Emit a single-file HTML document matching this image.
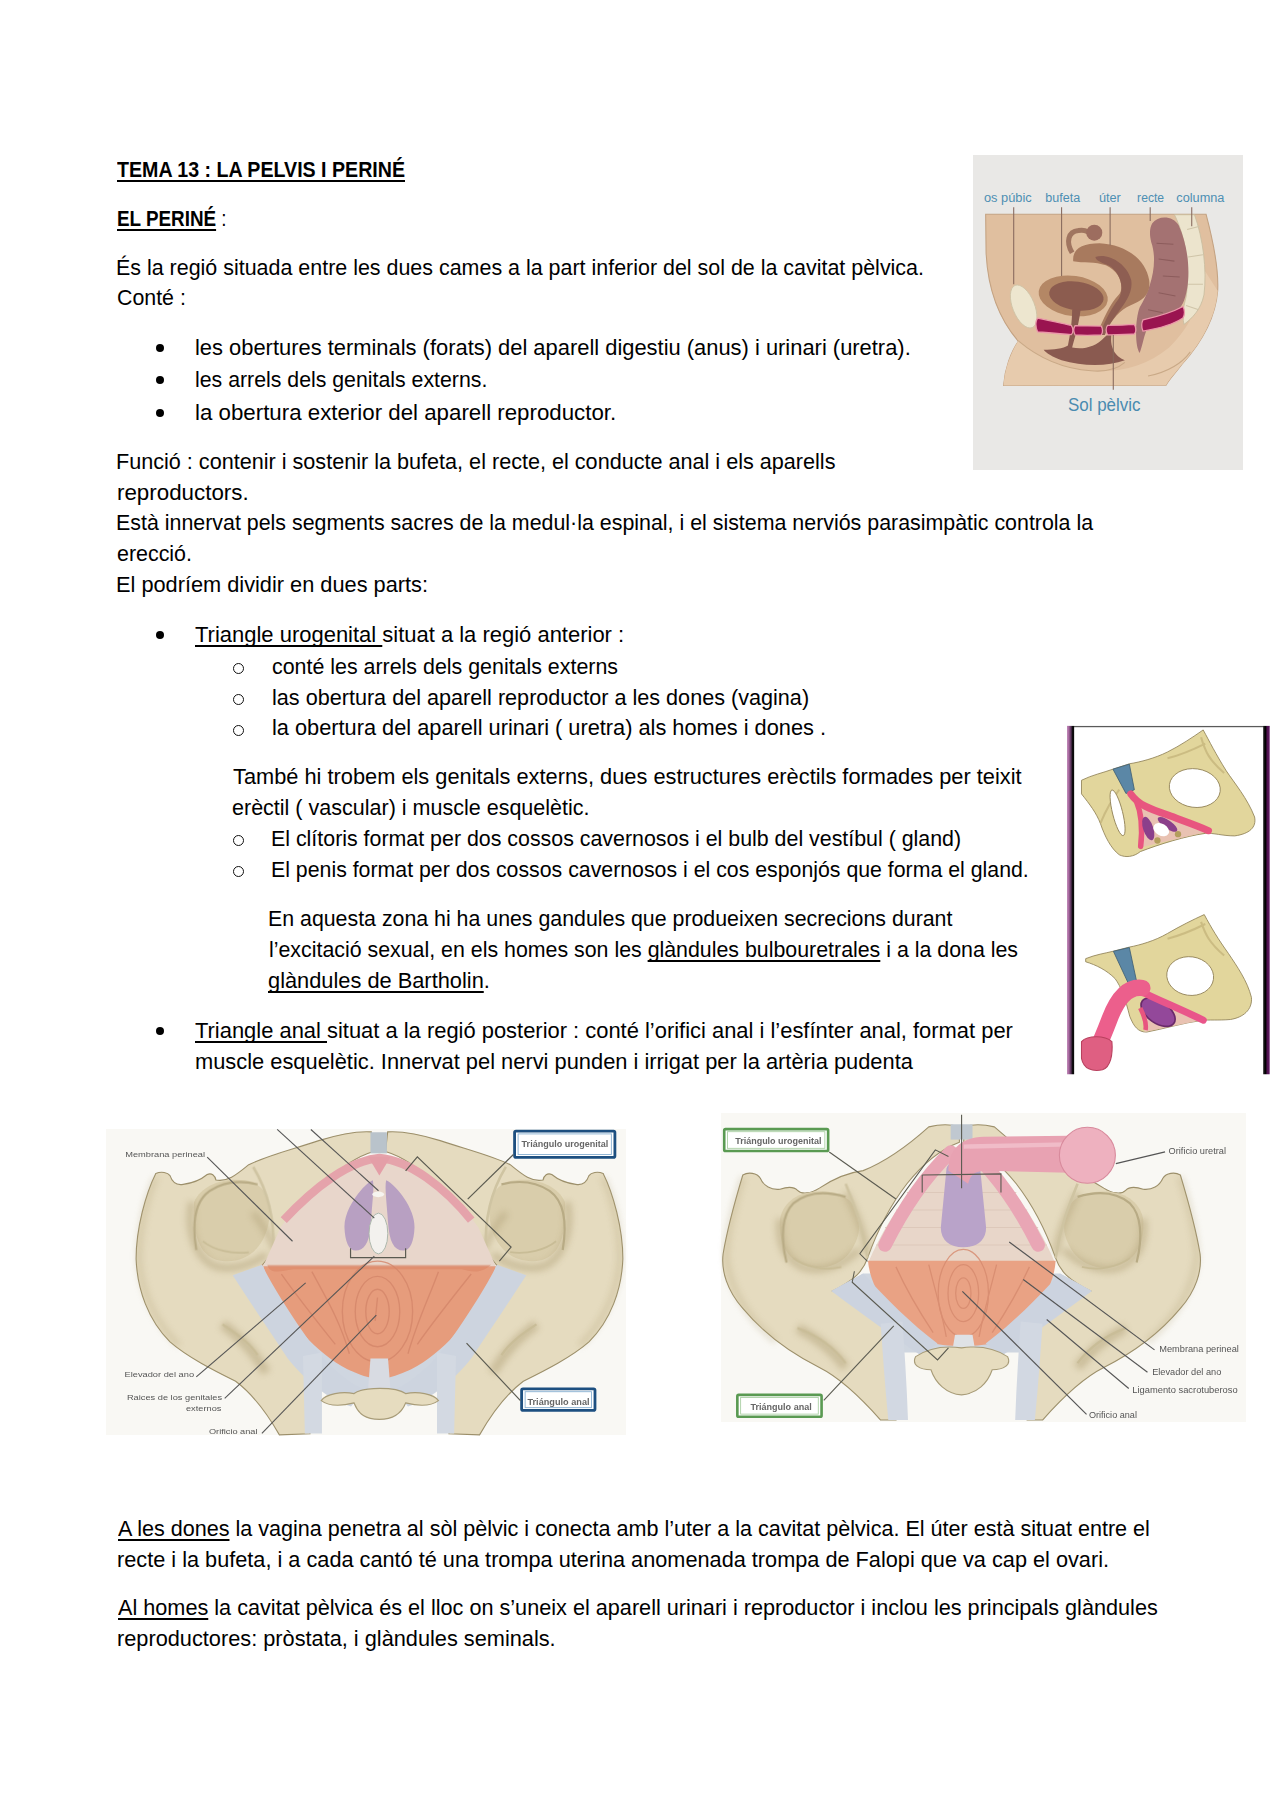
<!DOCTYPE html>
<html><head><meta charset="utf-8"><title>TEMA 13</title>
<style>
html,body{margin:0;padding:0;background:#fff}
body{width:1280px;height:1811px;position:relative;overflow:hidden;font-family:"Liberation Sans",sans-serif;color:#000}
.l{position:absolute;white-space:nowrap;font-size:22px;line-height:24px;transform-origin:0 0}
.l.bd{font-weight:bold}
.l u{text-decoration:underline;text-underline-offset:3px;text-decoration-thickness:2px;text-decoration-skip-ink:none}
.b{position:absolute;width:8px;height:8px;border-radius:50%;background:#000}
.c{position:absolute;width:9px;height:9px;border:1.4px solid #111;border-radius:50%}
.im{position:absolute;overflow:hidden}
</style></head><body>

<div class="l bd" style="left:117.00px;top:158.35px;transform:scaleX(0.8913)"><u>TEMA 13 : LA PELVIS I PERINÉ</u></div>
<div class="l bd" style="left:117.00px;top:206.85px;transform:scaleX(0.8560)"><u>EL PERINÉ</u><span style="font-weight:normal"> :</span></div>
<div class="l" style="left:116.00px;top:255.55px;transform:scaleX(0.9745)">És la regió situada entre les dues cames a la part inferior del sol de la cavitat pèlvica.</div>
<div class="l" style="left:117.00px;top:286.45px;transform:scaleX(0.9706)">Conté :</div>
<div class="l" style="left:194.80px;top:335.85px;transform:scaleX(0.9955)">les obertures terminals (forats) del aparell digestiu (anus) i urinari (uretra).</div>
<div class="l" style="left:194.80px;top:367.85px;transform:scaleX(0.9679)">les arrels dels genitals externs.</div>
<div class="l" style="left:194.80px;top:401.05px;transform:scaleX(1.0131)">la obertura exterior del aparell reproductor.</div>
<div class="l" style="left:116.00px;top:449.60px;transform:scaleX(0.9822)">Funció : contenir i sostenir la bufeta, el recte, el conducte anal i els aparells</div>
<div class="l" style="left:117.00px;top:480.60px;transform:scaleX(1.0157)">reproductors.</div>
<div class="l" style="left:116.00px;top:511.45px;transform:scaleX(0.9721)">Està innervat pels segments sacres de la medul·la espinal, i el sistema nerviós parasimpàtic controla la</div>
<div class="l" style="left:117.00px;top:542.45px;transform:scaleX(0.9730)">erecció.</div>
<div class="l" style="left:116.00px;top:573.35px;transform:scaleX(0.9888)">El podríem dividir en dues parts:</div>
<div class="l" style="left:194.50px;top:623.10px;transform:scaleX(0.9988)"><u>Triangle urogenital </u>situat a la regió anterior :</div>
<div class="l" style="left:271.50px;top:654.60px;transform:scaleX(0.9724)">conté les arrels dels genitals externs</div>
<div class="l" style="left:271.50px;top:685.85px;transform:scaleX(0.9825)">las obertura del aparell reproductor a les dones (vagina)</div>
<div class="l" style="left:271.50px;top:716.45px;transform:scaleX(0.9892)">la obertura del aparell urinari ( uretra) als homes i dones .</div>
<div class="l" style="left:232.50px;top:765.25px;transform:scaleX(0.9907)">També hi trobem els genitals externs, dues estructures erèctils formades per teixit</div>
<div class="l" style="left:232.00px;top:796.10px;transform:scaleX(0.9780)">erèctil ( vascular) i muscle esquelètic.</div>
<div class="l" style="left:271.00px;top:827.35px;transform:scaleX(0.9714)">El clítoris format per dos cossos cavernosos i el bulb del vestíbul ( gland)</div>
<div class="l" style="left:271.00px;top:858.35px;transform:scaleX(0.9682)">El penis format per dos cossos cavernosos i el cos esponjós que forma el gland.</div>
<div class="l" style="left:268.00px;top:907.10px;transform:scaleX(0.9698)">En aquesta zona hi ha unes gandules que produeixen secrecions durant</div>
<div class="l" style="left:269.00px;top:937.75px;transform:scaleX(0.9706)">l’excitació sexual, en els homes son les <u>glàndules bulbouretrales</u> i a la dona les</div>
<div class="l" style="left:268.00px;top:968.95px;transform:scaleX(0.9910)"><u>glàndules de Bartholin</u>.</div>
<div class="l" style="left:194.50px;top:1019.35px;transform:scaleX(0.9963)"><u>Triangle anal </u>situat a la regió posterior : conté l’orifici anal i l’esfínter anal, format per</div>
<div class="l" style="left:194.80px;top:1050.25px;transform:scaleX(0.9933)">muscle esquelètic. Innervat pel nervi punden i irrigat per la artèria pudenta</div>
<div class="l" style="left:117.50px;top:1517.10px;transform:scaleX(0.9800)"><u>A les dones</u> la vagina penetra al sòl pèlvic i conecta amb l’uter a la cavitat pèlvica. El úter està situat entre el</div>
<div class="l" style="left:117.00px;top:1548.10px;transform:scaleX(0.9868)">recte i la bufeta, i a cada cantó té una trompa uterina anomenada trompa de Falopi que va cap el ovari.</div>
<div class="l" style="left:117.50px;top:1596.45px;transform:scaleX(0.9841)"><u>Al homes</u> la cavitat pèlvica és el lloc on s’uneix el aparell urinari i reproductor i inclou les principals glàndules</div>
<div class="l" style="left:117.00px;top:1627.10px;transform:scaleX(0.9882)">reproductores: pròstata, i glàndules seminals.</div>
<div class="b" style="left:156.0px;top:344.0px"></div>
<div class="b" style="left:156.0px;top:376.2px"></div>
<div class="b" style="left:156.0px;top:408.8px"></div>
<div class="b" style="left:156.0px;top:631.0px"></div>
<div class="b" style="left:156.0px;top:1027.2px"></div>
<div class="c" style="left:232.8px;top:662.9px"></div>
<div class="c" style="left:232.8px;top:694.1px"></div>
<div class="c" style="left:232.8px;top:724.7px"></div>
<div class="c" style="left:232.8px;top:835.4px"></div>
<div class="c" style="left:232.8px;top:866.0px"></div>
<svg class="im" style="left:973px;top:155px" width="270" height="315" viewBox="0 0 1280 1493">
<rect x="0" y="0" width="1280" height="1493" fill="#e9e8e6"/>
<g font-family="Liberation Sans, sans-serif" fill="#4d8fb3" font-size="60">
<text x="52" y="222" textLength="226" lengthAdjust="spacingAndGlyphs">os púbic</text>
<text x="343" y="222" textLength="165" lengthAdjust="spacingAndGlyphs">bufeta</text>
<text x="597" y="222" textLength="104" lengthAdjust="spacingAndGlyphs">úter</text>
<text x="778" y="222" textLength="128" lengthAdjust="spacingAndGlyphs">recte</text>
<text x="964" y="222" textLength="228" lengthAdjust="spacingAndGlyphs">columna</text>
</g>
<g transform="translate(0,213)">
<!-- body -->
<path d="M60,68 L1105,68 C1140,200 1165,330 1160,430 C1150,560 1080,680 990,780 C960,820 930,850 915,878 L145,880 C150,800 180,720 215,670 C120,560 70,420 62,250 Z" fill="#e0bf9f" stroke="#c3a282" stroke-width="5"/>
<!-- lighter lower thigh region -->
<path d="M215,668 C300,740 420,800 560,810 C700,820 820,790 930,700 C1030,600 1090,480 1095,330 L1160,430 C1150,560 1080,680 990,780 C960,820 930,850 915,878 L145,880 C150,800 180,720 215,668 Z" fill="#e7cbad"/>
<path d="M215,668 C300,740 420,800 560,810 C620,815 680,805 720,770" fill="none" stroke="#c9a987" stroke-width="5"/>
<path d="M830,835 C900,820 980,790 1030,720" fill="none" stroke="#c9a987" stroke-width="5"/>
<!-- column -->
<path d="M955,70 L1050,70 C1090,180 1110,330 1095,450 C1080,520 1040,560 1000,590 C990,540 1000,500 1010,460 C1030,330 1010,180 955,70 Z" fill="#ece4cd" stroke="#c8bd9f" stroke-width="4"/>
<path d="M1015,140 L1075,125 M1020,270 L1090,260 M1020,400 L1090,400 M1010,500 L1070,520" stroke="#cfc4a8" stroke-width="5"/>
<!-- rectum -->
<path d="M850,110 C880,70 950,75 975,120 C1030,240 1035,400 995,490 C960,560 880,550 830,600 C810,640 805,690 790,725 C765,690 770,560 790,510 C840,430 880,300 845,200 C835,160 838,130 850,110 Z" fill="#a47272"/>
<path d="M870,205 L950,210 M880,280 L955,290 M900,360 L980,365 M880,440 L960,455 M830,520 L900,535" stroke="#8c5c5c" stroke-width="5" fill="none"/>
<!-- pubic bone -->
<ellipse cx="240" cy="505" rx="52" ry="108" transform="rotate(-22 240 505)" fill="#ede6cf" stroke="#cfc3a6" stroke-width="4"/>
<!-- uterus -->
<path d="M475,290 C470,230 520,205 600,205 C720,210 820,280 835,380 C845,450 800,480 745,500 C700,520 660,560 620,640 L585,640 C620,560 650,490 690,450 C720,420 700,340 630,310 C580,290 520,300 475,290 Z" fill="#a87a5e"/>
<path d="M580,270 C640,250 730,300 750,380 C760,440 720,490 690,530 C660,570 640,600 625,640 L600,640 C630,560 660,510 690,470 C720,420 700,340 640,310 C610,295 585,290 580,270 Z" fill="#8e5e52"/>
<!-- tube + ovary -->
<path d="M470,250 C440,200 450,150 500,145 C530,140 550,150 560,170" fill="none" stroke="#a07560" stroke-width="24"/>
<circle cx="575" cy="155" r="38" fill="#9d6d5f"/>
<!-- bladder -->
<ellipse cx="475" cy="455" rx="165" ry="95" transform="rotate(8 475 455)" fill="#b48765"/>
<ellipse cx="490" cy="455" rx="130" ry="68" transform="rotate(8 490 455)" fill="#8c5c4f"/>
<!-- urethra/vagina dark bottom -->
<path d="M470,520 L510,520 C500,600 480,660 470,700 C520,710 580,700 625,650 L660,620 C640,700 680,745 720,760 C640,790 520,790 420,760 C380,745 345,725 335,710 C380,710 430,705 450,690 C460,640 470,580 470,520 Z" fill="#8a5a50"/>
<!-- pelvic floor -->
<g fill="#9a1450" stroke="#eb98aa" stroke-width="6">
<path d="M306,560 C380,575 440,590 466,595 C476,610 476,630 466,638 C420,636 360,630 306,625 C296,600 296,575 306,560 Z"/>
<path d="M484,596 C540,598 590,598 608,598 C616,610 616,630 608,640 C560,642 520,642 484,640 C476,625 476,608 484,596 Z"/>
<path d="M638,594 C690,594 740,592 765,590 C773,605 773,625 765,636 C720,638 680,640 638,640 C630,625 630,606 638,594 Z"/>
<path d="M806,568 C880,552 950,530 995,505 C1005,520 1005,545 995,560 C950,590 880,610 806,622 C798,605 798,585 806,568 Z"/>
</g>
<!-- leader lines -->
<g stroke="#86685c" stroke-width="5" fill="none">
<path d="M193,35 L193,400"/><path d="M420,35 L420,360"/><path d="M650,35 L650,215"/><path d="M840,35 L840,100"/><path d="M1037,35 L1037,125"/><path d="M665,640 L665,900"/>
</g>
</g>
<text x="450" y="1212" font-family="Liberation Sans, sans-serif" font-size="88" fill="#4a8bb0" textLength="344" lengthAdjust="spacingAndGlyphs">Sol pèlvic</text>
</svg>
<svg class="im" style="left:1050px;top:710px" width="230" height="380" viewBox="0 0 1096 1811">
<defs><linearGradient id="fl" x1="0" x2="1" y1="0" y2="0"><stop offset="0" stop-color="#c08ab8"/><stop offset="0.25" stop-color="#a868a0"/><stop offset="0.6" stop-color="#4a2c4c"/><stop offset="0.8" stop-color="#050505"/><stop offset="1" stop-color="#111"/></linearGradient>
<linearGradient id="fr" x1="0" x2="1" y1="0" y2="0"><stop offset="0" stop-color="#222"/><stop offset="0.35" stop-color="#000"/><stop offset="0.6" stop-color="#501050"/><stop offset="0.85" stop-color="#5a1a5c"/><stop offset="1" stop-color="#b080b0"/></linearGradient></defs>
<rect x="81" y="76" width="967" height="1660" fill="#ffffff"/>
<rect x="81" y="76" width="967" height="6" fill="#5a5a5a"/>
<rect x="81" y="76" width="34" height="1660" fill="url(#fl)"/>
<rect x="1016" y="76" width="32" height="1660" fill="url(#fr)"/>
<defs>
<filter id="soft2" x="-10%" y="-10%" width="120%" height="120%"><feGaussianBlur stdDeviation="4"/></filter>
</defs>
<!-- upper pelvis -->
<g>
<path d="M150,335 C200,310 250,300 300,282 L380,256 C430,248 500,230 560,200 C620,170 680,130 730,95 C760,150 790,210 840,290 C880,350 940,420 975,510 C985,560 950,590 880,600 C820,600 780,585 740,588 C650,600 520,640 430,675 C400,700 360,705 330,690 C290,660 260,600 240,540 C220,490 190,450 150,400 Z" fill="#e2d69c" stroke="#8f8055" stroke-width="4"/>
<path d="M240,540 C270,470 300,420 330,380 M720,130 C740,200 760,240 830,300 M560,230 C600,220 660,200 740,160" stroke="#c2b078" stroke-width="10" fill="none" opacity="0.7"/>
<ellipse cx="690" cy="372" rx="122" ry="92" transform="rotate(8 690 372)" fill="#fff" stroke="#8f8055" stroke-width="4"/>
<ellipse cx="322" cy="490" rx="24" ry="112" transform="rotate(-14 322 490)" fill="#fff" stroke="#8f8055" stroke-width="4"/>
<path d="M440,470 L760,578 L430,655 Z" fill="#e9c2b2"/>
<path d="M300,282 L378,258 L402,380 L362,398 Z" fill="#5b87a6" stroke="#3e5e74" stroke-width="4"/>
<path d="M385,400 C420,450 470,470 560,500 C640,530 700,550 755,575" stroke="#e8557f" stroke-width="34" fill="none" stroke-linecap="round"/>
<path d="M410,430 C440,500 440,580 432,650" stroke="#e8557f" stroke-width="26" fill="none" stroke-linecap="round"/>
<ellipse cx="468" cy="565" rx="24" ry="58" transform="rotate(-18 468 565)" fill="#8b3f8b"/>
<ellipse cx="560" cy="545" rx="20" ry="55" transform="rotate(-55 560 545)" fill="#8b3f8b"/>
<ellipse cx="530" cy="570" rx="40" ry="28" transform="rotate(30 530 570)" fill="#fff"/>
<circle cx="512" cy="622" r="15" fill="#b39e5c"/><circle cx="610" cy="592" r="15" fill="#b39e5c"/>
</g>
<!-- lower pelvis -->
<g>
<path d="M170,1185 C220,1165 260,1160 300,1150 L378,1130 C430,1120 500,1100 560,1065 C620,1030 680,1000 735,975 C770,1040 800,1090 850,1160 C890,1220 940,1290 960,1370 C965,1430 920,1465 860,1475 C800,1480 760,1475 720,1480 C640,1490 540,1520 460,1535 C420,1535 400,1510 380,1460 C360,1380 340,1320 310,1280 C270,1240 220,1215 170,1200 Z" fill="#e2d69c" stroke="#8f8055" stroke-width="4"/>
<path d="M720,1010 C740,1070 760,1110 830,1170 M560,1090 C600,1080 660,1060 740,1020" stroke="#c2b078" stroke-width="10" fill="none" opacity="0.7"/>
<ellipse cx="668" cy="1268" rx="112" ry="92" transform="rotate(8 668 1268)" fill="#fff" stroke="#8f8055" stroke-width="4"/>
<path d="M440,1380 L720,1478 L450,1535 Z" fill="#e9c2b2"/>
<path d="M302,1150 L378,1132 L412,1290 L372,1300 Z" fill="#5b87a6" stroke="#3e5e74" stroke-width="4"/>
<ellipse cx="515" cy="1440" rx="92" ry="52" transform="rotate(35 515 1440)" fill="#93489a" stroke="#6a2a6a" stroke-width="8"/>
<path d="M430,1420 C450,1460 460,1500 455,1525" stroke="#e8557f" stroke-width="22" fill="none"/>
<path d="M730,1478 C620,1425 510,1380 420,1335" stroke="#e9558a" stroke-width="34" fill="none" stroke-linecap="round"/>
<path d="M440,1325 C370,1315 320,1380 285,1470 C262,1530 242,1580 222,1620" stroke="#ec5f8c" stroke-width="78" fill="none" stroke-linecap="round"/>
<path d="M150,1580 C180,1550 260,1550 295,1580 C300,1640 290,1700 250,1715 C200,1725 160,1710 150,1660 Z" fill="#df5f82" stroke="#b8405e" stroke-width="5"/>
</g>
</svg>
<svg class="im" style="left:100px;top:1100px" width="540" height="350" viewBox="100 1100 540 350">
<defs><filter id="blr3" x="-50%" y="-50%" width="200%" height="200%"><feGaussianBlur stdDeviation="14"/></filter></defs>
<rect x="106" y="1129" width="520" height="306" fill="#f9f8f4"/>
<!-- bones (left half in 4.571 coords, mirrored for right) -->
<g transform="translate(100,1110) scale(0.21877)">
 <g id="lbone3">
 <path d="M255,290 C280,280 310,285 320,300 C330,330 350,345 380,340 C420,335 460,320 490,295 C510,285 525,300 530,320 C580,330 620,300 680,250 C760,210 880,180 1000,140 C1080,115 1160,95 1240,100 L1250,190 C1180,210 1090,270 1000,350 C900,440 830,540 790,640 C760,700 700,760 640,770 C720,860 820,980 920,1110 C950,1250 955,1380 960,1480 L820,1485 C760,1380 700,1300 620,1240 C520,1190 400,1130 320,1060 C220,960 170,820 165,680 C165,540 210,380 255,290 Z" fill="#e5dbbf" stroke="#9c8f6a" stroke-width="5"/>
 <path d="M430,420 C470,330 600,300 700,330 C760,360 790,420 770,520 C750,620 680,700 560,690 C470,680 420,600 430,420 Z" fill="#d9cdab"/>
<g filter="url(#blr3)" opacity="0.55" fill="none" stroke="#b5a67e"><path d="M420,420 C400,520 420,640 500,700 C560,740 680,720 760,660" stroke-width="34"/><path d="M560,980 C640,1040 700,1100 760,1200" stroke-width="44"/><path d="M255,310 C210,400 175,560 180,700 C195,850 265,980 360,1075" stroke-width="26" opacity="0.6"/><path d="M700,470 C740,520 780,580 800,640" stroke-width="30"/></g>
 <path d="M440,640 C420,520 430,420 500,370 C560,330 640,320 720,340" fill="none" stroke="#b8ab85" stroke-width="10"/>
 <path d="M470,600 C520,640 600,660 680,650" fill="none" stroke="#c8bc96" stroke-width="8"/>
 <path d="M560,980 C620,1020 680,1060 720,1120" fill="none" stroke="#c9bd98" stroke-width="10"/>
 <path d="M700,260 C760,360 800,480 790,640" fill="none" stroke="#cfc4a2" stroke-width="12"/>
 </g>
 <g transform="translate(2555,0) scale(-1,1)">
 <path d="M255,290 C280,280 310,285 320,300 C330,330 350,345 380,340 C420,335 460,320 490,295 C510,285 525,300 530,320 C580,330 620,300 680,250 C760,210 880,180 1000,140 C1080,115 1160,95 1240,100 L1250,190 C1180,210 1090,270 1000,350 C900,440 830,540 790,640 C760,700 700,760 640,770 C720,860 820,980 920,1110 C950,1250 955,1380 960,1480 L820,1485 C760,1380 700,1300 620,1240 C520,1190 400,1130 320,1060 C220,960 170,820 165,680 C165,540 210,380 255,290 Z" fill="#e5dbbf" stroke="#9c8f6a" stroke-width="5"/>
 <path d="M430,420 C470,330 600,300 700,330 C760,360 790,420 770,520 C750,620 680,700 560,690 C470,680 420,600 430,420 Z" fill="#d9cdab"/>
<g filter="url(#blr3)" opacity="0.55" fill="none" stroke="#b5a67e"><path d="M420,420 C400,520 420,640 500,700 C560,740 680,720 760,660" stroke-width="34"/><path d="M560,980 C640,1040 700,1100 760,1200" stroke-width="44"/><path d="M255,310 C210,400 175,560 180,700 C195,850 265,980 360,1075" stroke-width="26" opacity="0.6"/><path d="M700,470 C740,520 780,580 800,640" stroke-width="30"/></g>
 <path d="M440,640 C420,520 430,420 500,370 C560,330 640,320 720,340" fill="none" stroke="#b8ab85" stroke-width="10"/>
 <path d="M470,600 C520,640 600,660 680,650" fill="none" stroke="#c8bc96" stroke-width="8"/>
 <path d="M560,980 C620,1020 680,1060 720,1120" fill="none" stroke="#c9bd98" stroke-width="10"/>
 <path d="M700,260 C760,360 800,480 790,640" fill="none" stroke="#cfc4a2" stroke-width="12"/>
 </g>
</g>
<!-- center structures in 4.267 coords -->
<g transform="translate(340,1110) scale(0.23435)">
 <path d="M168,190 L300,225 C420,300 520,400 590,500 L665,667 L-328,667 L-253,500 C-183,400 -83,300 37,225 Z" fill="#e8d6cb"/>
 <rect x="130" y="95" width="70" height="90" fill="#b9c3cb"/>
 <path d="M-240,470 C-110,330 40,215 168,205 C296,215 446,330 560,470" fill="none" stroke="#e5a3ab" stroke-width="36"/>
 <path d="M120,200 L168,280 L216,200" fill="#e49ea7"/>
 <path d="M197,300 C240,320 320,420 318,500 C316,560 300,600 270,600 C230,600 210,560 205,480 C200,400 190,330 197,300 Z" fill="#b8a0c2"/>
 <path d="M140,300 C97,320 17,420 19,500 C21,560 37,600 67,600 C107,600 127,560 132,480 C137,400 147,330 140,300 Z" fill="#b8a0c2"/>
 <ellipse cx="164" cy="527" rx="40" ry="87" fill="#f3f1ee" stroke="#a8b4a8" stroke-width="4"/>
 <ellipse cx="163" cy="360" rx="26" ry="12" fill="#f6f4f0"/>
 <path d="M-341,667 L-341,819 L-157,1035 L-77,1195 L107,1219 L219,1219 L419,1195 L507,1035 L683,819 L683,667 Z" fill="#cfd6e0"/>
 <path d="M-330,667 L665,667 C640,770 560,880 470,980 C380,1070 290,1130 168,1150 C46,1130 -44,1070 -134,980 C-224,880 -304,760 -330,655 Z" fill="#e69c7c"/>
 <path d="M-310,660 L645,660 C600,700 560,690 520,680 L-200,680 C-260,690 -300,700 -310,660 Z" fill="#d98262" opacity="0.5"/>
 <g fill="none" stroke="#d4866a" stroke-width="6" opacity="0.8">
  <ellipse cx="160" cy="860" rx="150" ry="215"/>
  <ellipse cx="160" cy="860" rx="95" ry="150"/>
  <ellipse cx="160" cy="860" rx="50" ry="95"/>
  <path d="M160,800 L150,900"/>
  <path d="M-250,700 C-180,800 -100,900 -20,1000 M-120,690 C-60,800 0,900 40,1040 M420,690 C380,800 330,900 290,1040 M560,700 C480,800 400,900 330,1000"/>
 </g>
 <path d="M670,660 L795,705 C720,820 640,940 560,1060 C480,1160 380,1240 290,1265 L230,1195 C330,1150 420,1060 500,940 C560,850 620,760 670,660 Z" fill="#cdd4df"/>
 <path d="M-333,660 L-458,705 C-383,820 -303,940 -223,1060 C-143,1160 -43,1240 47,1265 L107,1195 C7,1150 -83,1060 -163,940 C-223,850 -283,760 -333,660 Z" fill="#cdd4df"/>
 <path d="M414,1035 L495,1050 L487,1380 L414,1380 Z" fill="#d3d9e2"/>
 <path d="M-77,1035 L-158,1050 L-150,1380 L-77,1380 Z" fill="#d3d9e2"/>
 <path d="M130,1060 L205,1060 L215,1190 L120,1190 Z" fill="#d8dbe2"/>
 <path d="M60,1210 C100,1180 240,1180 280,1210 C330,1200 400,1210 420,1240 C380,1270 320,1260 280,1250 C260,1300 220,1320 168,1320 C110,1320 80,1300 60,1250 C20,1260 -40,1270 -80,1240 C-60,1210 10,1200 60,1210 Z" fill="#e6dcbf" stroke="#a89c78" stroke-width="5"/>
 <!-- blue boxes -->
 <rect x="745" y="90" width="428" height="112" fill="#fff" stroke="#1d4f80" stroke-width="12" rx="6"/>
 <rect x="760" y="102" width="398" height="88" fill="#fff" stroke="#8db3d3" stroke-width="4"/>
 <text x="775" y="158" font-family="Liberation Sans, sans-serif" font-size="38" font-weight="bold" fill="#666" textLength="370" lengthAdjust="spacingAndGlyphs">Triángulo urogenital</text>
 <rect x="775" y="1190" width="313" height="92" fill="#fff" stroke="#1d4f80" stroke-width="12" rx="6"/>
 <rect x="790" y="1202" width="283" height="68" fill="#fff" stroke="#8db3d3" stroke-width="4"/>
 <text x="800" y="1260" font-family="Liberation Sans, sans-serif" font-size="38" font-weight="bold" fill="#666" textLength="265" lengthAdjust="spacingAndGlyphs">Triángulo anal</text>
 <g fill="none" stroke="#5a5a50" stroke-width="5">
  <path d="M45,590 L45,630 L280,630 L280,590"/>
  <path d="M280,260 L330,200 L730,585 L680,645"/>
  <path d="M545,380 L740,190"/>
  <path d="M540,995 L770,1240"/>
 </g>
</g>
<!-- labels and leader lines in 4.571 coords -->
<g transform="translate(100,1110) scale(0.21877)">
 <g font-family="Liberation Sans, sans-serif" font-size="36" fill="#555">
  <text x="115" y="215" textLength="365" lengthAdjust="spacingAndGlyphs">Membrana perineal</text>
  <text x="112" y="1222" textLength="318" lengthAdjust="spacingAndGlyphs">Elevador del ano</text>
  <text x="123" y="1325" textLength="435" lengthAdjust="spacingAndGlyphs">Raices de los genitales</text>
  <text x="393" y="1378" textLength="162" lengthAdjust="spacingAndGlyphs">externos</text>
  <text x="498" y="1482" textLength="222" lengthAdjust="spacingAndGlyphs">Orificio anal</text>
 </g>
 <g fill="none" stroke="#555" stroke-width="5">
  <path d="M490,215 L880,600"/>
  <path d="M810,89 L1254,494"/>
  <path d="M964,89 L1273,369"/>
  <path d="M440,1220 L940,790"/>
  <path d="M570,1318 L1254,668"/>
  <path d="M740,1478 L1263,938"/>
 </g>
</g>
</svg>
<svg class="im" style="left:700px;top:1100px" width="560" height="340" viewBox="700 1100 560 340">
<defs><filter id="blr4" x="-50%" y="-50%" width="200%" height="200%"><feGaussianBlur stdDeviation="14"/></filter></defs>
<rect x="721" y="1113" width="525" height="309" fill="#f9f8f4"/>
<g transform="translate(710,1105) scale(0.21877)">
 <g>
 <path d="M150,320 C175,305 215,310 230,335 C245,370 280,390 320,385 C350,375 380,370 400,390 C420,410 460,405 500,380 C560,340 620,310 700,300 C800,260 900,190 1000,100 C1060,85 1110,90 1140,100 L1140,170 C1060,200 980,260 900,360 C830,450 770,560 720,700 C700,760 660,800 560,850 C680,900 760,950 790,1000 C800,1150 810,1300 850,1440 L780,1440 C700,1350 600,1250 500,1200 C380,1140 250,1050 150,930 C80,850 50,760 60,680 C80,560 120,420 150,320 Z" fill="#e5dbbf" stroke="#9c8f6a" stroke-width="5"/>
 <path d="M320,520 C340,420 440,380 560,400 C650,420 690,480 680,580 C660,680 580,760 460,740 C360,720 310,640 320,520 Z" fill="#d9cdab"/>
<g filter="url(#blr4)" opacity="0.55" fill="none" stroke="#b5a67e"><path d="M320,520 C310,620 340,700 420,740 C500,770 600,740 680,660" stroke-width="34"/><path d="M400,1020 C480,1060 560,1120 620,1200" stroke-width="44"/><path d="M150,330 C110,450 75,600 75,700 C95,850 180,980 300,1080" stroke-width="26" opacity="0.6"/><path d="M620,400 C660,480 700,560 720,680" stroke-width="30"/></g>
 <path d="M350,720 C320,600 330,500 380,450 C440,400 520,390 620,420" fill="none" stroke="#b8ab85" stroke-width="10"/>
 <path d="M380,700 C440,740 520,760 600,740" fill="none" stroke="#c8bc96" stroke-width="8"/>
 <path d="M400,1020 C480,1050 560,1100 620,1180" fill="none" stroke="#c9bd98" stroke-width="10"/>
 <path d="M620,360 C660,460 700,560 720,700" fill="none" stroke="#cfc4a2" stroke-width="12"/>
 </g>
 <g transform="translate(2300,0) scale(-1,1)">
 <path d="M150,320 C175,305 215,310 230,335 C245,370 280,390 320,385 C350,375 380,370 400,390 C420,410 460,405 500,380 C560,340 620,310 700,300 C800,260 900,190 1000,100 C1060,85 1110,90 1140,100 L1140,170 C1060,200 980,260 900,360 C830,450 770,560 720,700 C700,760 660,800 560,850 C680,900 760,950 790,1000 C800,1150 810,1300 850,1440 L780,1440 C700,1350 600,1250 500,1200 C380,1140 250,1050 150,930 C80,850 50,760 60,680 C80,560 120,420 150,320 Z" fill="#e5dbbf" stroke="#9c8f6a" stroke-width="5"/>
 <path d="M320,520 C340,420 440,380 560,400 C650,420 690,480 680,580 C660,680 580,760 460,740 C360,720 310,640 320,520 Z" fill="#d9cdab"/>
<g filter="url(#blr4)" opacity="0.55" fill="none" stroke="#b5a67e"><path d="M320,520 C310,620 340,700 420,740 C500,770 600,740 680,660" stroke-width="34"/><path d="M400,1020 C480,1060 560,1120 620,1200" stroke-width="44"/><path d="M150,330 C110,450 75,600 75,700 C95,850 180,980 300,1080" stroke-width="26" opacity="0.6"/><path d="M620,400 C660,480 700,560 720,680" stroke-width="30"/></g>
 <path d="M350,720 C320,600 330,500 380,450 C440,400 520,390 620,420" fill="none" stroke="#b8ab85" stroke-width="10"/>
 <path d="M380,700 C440,740 520,760 600,740" fill="none" stroke="#c8bc96" stroke-width="8"/>
 <path d="M400,1020 C480,1050 560,1100 620,1180" fill="none" stroke="#c9bd98" stroke-width="10"/>
 <path d="M620,360 C660,460 700,560 720,700" fill="none" stroke="#cfc4a2" stroke-width="12"/>
 </g>
 <!-- membrane -->
 <path d="M1150,190 L1200,200 C1350,330 1480,500 1575,715 L725,715 C820,500 950,330 1100,200 Z" fill="#e8d6c9"/>
 <g stroke="#dcc6b8" stroke-width="4"><path d="M900,400 L1400,400 M850,480 L1450,480 M800,560 L1500,560 M760,640 L1540,640"/></g>
 <rect x="1100" y="88" width="100" height="70" fill="#c0c8d0"/>
 <path d="M800,640 C880,480 980,330 1100,215" stroke="#e9a6b5" stroke-width="62" fill="none" stroke-linecap="round"/>
 <path d="M1500,640 C1420,480 1320,330 1200,215" stroke="#e9a6b5" stroke-width="62" fill="none" stroke-linecap="round"/>
 <path d="M1080,300 C1080,270 1110,250 1158,250 C1206,250 1236,270 1236,300 L1262,560 C1262,620 1220,650 1158,650 C1096,650 1055,620 1055,560 Z" fill="#b9a3c9"/>
 <!-- penis -->
 <path d="M1090,300 C1090,220 1130,150 1250,145 L1640,140 L1640,310 L1260,300 C1210,300 1190,320 1180,360 Z" fill="#e8a2b2"/>
 <path d="M1160,190 L1640,180" stroke="#f0bcc8" stroke-width="20"/>
 <circle cx="1725" cy="230" r="128" fill="#eeb1bf" stroke="#d88a9c" stroke-width="5"/>
 <!-- muscle -->
 <path d="M700,770 L555,850 L791,1003 L886,1131 L1417,1131 L1520,1003 L1745,850 L1600,770 Z" fill="#cfd6e0"/>
 
 <path d="M722,712 L1580,712 C1570,850 1470,1000 1320,1080 C1240,1110 1070,1110 990,1080 C840,1000 735,850 722,712 Z" fill="#e9a284"/>
 <g fill="none" stroke="#d68a6e" stroke-width="6" opacity="0.8">
  <ellipse cx="1158" cy="860" rx="115" ry="200"/>
  <ellipse cx="1158" cy="860" rx="70" ry="130"/>
  <ellipse cx="1158" cy="860" rx="35" ry="70"/>
  <path d="M850,740 C900,850 960,950 1020,1040 M1000,730 C1030,850 1060,950 1080,1060 M1460,740 C1410,850 1350,950 1290,1040 M1310,730 C1280,850 1250,950 1230,1060"/>
 </g>
 <!-- ligaments -->
 <path d="M555,850 L700,770 C800,880 920,1000 1040,1090 L965,1145 C840,1060 700,960 555,850 Z" fill="#ccd3df"/>
 <path d="M1745,850 L1600,770 C1500,880 1380,1000 1260,1090 L1335,1145 C1460,1060 1600,960 1745,850 Z" fill="#ccd3df"/>
 <path d="M780,1000 L880,990 C890,1140 900,1290 905,1440 L815,1440 C800,1290 790,1140 780,1000 Z" fill="#d2d8e2"/>
 <path d="M1520,1000 L1420,990 C1410,1140 1400,1290 1395,1440 L1485,1440 C1500,1290 1510,1140 1520,1000 Z" fill="#d2d8e2"/>
 <!-- coccyx -->
 <path d="M1120,1050 L1200,1050 L1210,1110 L1110,1110 Z" fill="#dfe2e6"/>
 <path d="M940,1150 C1000,1110 1080,1100 1150,1110 C1220,1100 1300,1110 1360,1150 C1380,1190 1340,1210 1290,1210 C1270,1270 1220,1320 1150,1325 C1080,1320 1030,1270 1010,1210 C960,1210 920,1190 940,1150 Z" fill="#e6dcbf" stroke="#a89c78" stroke-width="5"/>
 <!-- green boxes -->
 <rect x="65" y="110" width="475" height="100" fill="#fff" stroke="#5a9a52" stroke-width="12" rx="6"/>
 <rect x="80" y="122" width="445" height="76" fill="#fff" stroke="#a9cfa2" stroke-width="4"/>
 <text x="115" y="180" font-family="Liberation Sans, sans-serif" font-size="40" font-weight="bold" fill="#666" textLength="395" lengthAdjust="spacingAndGlyphs">Triángulo urogenital</text>
 <rect x="125" y="1325" width="385" height="100" fill="#fff" stroke="#5a9a52" stroke-width="12" rx="6"/>
 <rect x="140" y="1337" width="355" height="76" fill="#fff" stroke="#a9cfa2" stroke-width="4"/>
 <text x="185" y="1395" font-family="Liberation Sans, sans-serif" font-size="40" font-weight="bold" fill="#666" textLength="280" lengthAdjust="spacingAndGlyphs">Triángulo anal</text>
 <g fill="none" stroke="#5a5a50" stroke-width="5">
  <path d="M545,215 L850,430"/>
  <path d="M520,1350 L840,1010"/>
  <path d="M1090,235 L1030,205 L685,680 L720,715"/>
  <path d="M660,760 L650,810 L1040,1165 L1090,1110"/>
  <path d="M970,320 L1330,315 L1330,400 M970,320 L970,400"/>
  <path d="M1150,45 L1150,380"/>
 </g>
</g>
<g transform="translate(960,1105) scale(0.23435)">
 <g font-family="Liberation Sans, sans-serif" font-size="38" fill="#555">
  <text x="890" y="210" textLength="245" lengthAdjust="spacingAndGlyphs">Orificio uretral</text>
  <text x="850" y="1055" textLength="340" lengthAdjust="spacingAndGlyphs">Membrana perineal</text>
  <text x="820" y="1152" textLength="295" lengthAdjust="spacingAndGlyphs">Elevador del ano</text>
  <text x="735" y="1228" textLength="450" lengthAdjust="spacingAndGlyphs">Ligamento sacrotuberoso</text>
  <text x="550" y="1335" textLength="205" lengthAdjust="spacingAndGlyphs">Orificio anal</text>
 </g>
 <g fill="none" stroke="#555" stroke-width="5">
  <path d="M665,250 L875,200"/>
  <path d="M210,585 L830,1045"/>
  <path d="M270,745 L800,1140"/>
  <path d="M370,915 L720,1210"/>
  <path d="M10,795 L540,1320"/>
 </g>
</g>
</svg>

</body></html>
